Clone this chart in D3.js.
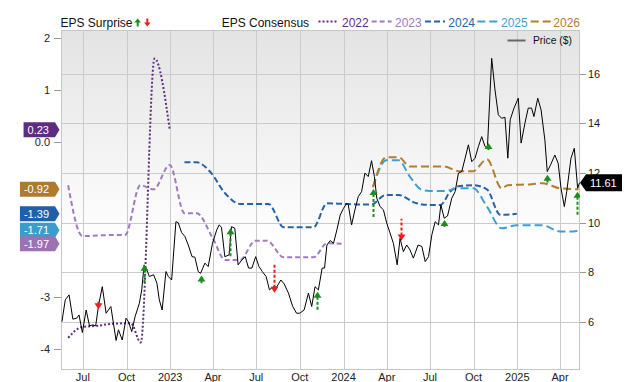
<!DOCTYPE html>
<html><head><meta charset="utf-8">
<script src="https://cdn.jsdelivr.net/npm/d3@7"></script>
<style>body{margin:0;background:#fff}svg{display:block;font-family:"Liberation Sans",Arial,sans-serif}</style>
</head><body><svg id="c" width="640" height="382"></svg>
<script>
// ---------------- DATA ----------------
const priceDates = ["2022-05-18","2022-05-25","2022-06-02","2022-06-10","2022-06-18","2022-06-23","2022-06-30","2022-07-08","2022-07-15","2022-07-22","2022-07-28","2022-08-03","2022-08-11","2022-08-19","2022-08-29","2022-09-09","2022-09-14","2022-09-22","2022-09-30","2022-10-05","2022-10-12","2022-10-19","2022-10-28","2022-11-02","2022-11-07","2022-11-13","2022-11-18","2022-11-27","2022-12-04","2022-12-09","2022-12-15","2022-12-23","2022-12-28","2023-01-04","2023-01-13","2023-01-18","2023-01-25","2023-02-01","2023-02-08","2023-02-16","2023-02-22","2023-03-01","2023-03-06","2023-03-15","2023-03-22","2023-03-31","2023-04-09","2023-04-14","2023-04-19","2023-04-26","2023-05-05","2023-05-10","2023-05-17","2023-05-24","2023-06-01","2023-06-08","2023-06-15","2023-06-22","2023-06-30","2023-07-07","2023-07-14","2023-07-22","2023-07-29","2023-08-06","2023-08-13","2023-08-22","2023-08-29","2023-09-07","2023-09-16","2023-09-24","2023-10-01","2023-10-10","2023-10-19","2023-10-26","2023-11-02","2023-11-09","2023-11-17","2023-11-22","2023-11-27","2023-12-04","2023-12-11","2023-12-18","2023-12-25","2024-01-01","2024-01-08","2024-01-11","2024-01-18","2024-01-25","2024-02-01","2024-02-08","2024-02-15","2024-02-22","2024-02-29","2024-03-06","2024-03-11","2024-03-18","2024-03-25","2024-04-01","2024-04-08","2024-04-15","2024-04-23","2024-04-29","2024-05-06","2024-05-13","2024-05-20","2024-05-27","2024-06-06","2024-06-14","2024-06-21","2024-06-28","2024-07-05","2024-07-12","2024-07-19","2024-07-24","2024-07-31","2024-08-07","2024-08-16","2024-08-23","2024-08-30","2024-09-06","2024-09-13","2024-09-20","2024-09-27","2024-10-04","2024-10-11","2024-10-18","2024-10-25","2024-10-30","2024-11-08","2024-11-15","2024-11-22","2024-11-29","2024-12-06","2024-12-12","2024-12-17","2024-12-25","2025-01-03","2025-01-09","2025-01-17","2025-01-24","2025-01-31","2025-02-05","2025-02-13","2025-02-20","2025-02-28","2025-03-05","2025-03-12","2025-03-21","2025-03-28","2025-04-03","2025-04-10","2025-04-15","2025-04-24","2025-05-01","2025-05-08","2025-05-12"];
const priceValues = [6.01,6.89,7.09,6.11,6.15,6.28,5.57,6.48,5.84,5.88,5.84,6.65,7.42,6.35,6.62,5.25,5.68,5.27,6.15,6.01,5.61,6.21,6.75,7.29,8.30,8.10,7.83,7.90,7.56,6.89,6.48,8.03,7.83,7.69,10.04,10.00,9.60,9.44,9.10,8.63,8.61,8.03,7.96,8.37,8.23,9.17,9.71,9.91,9.82,8.63,8.70,9.84,9.78,8.30,8.50,8.63,8.17,8.17,8.63,8.23,8.03,7.83,7.29,7.42,7.40,7.69,7.53,7.16,6.62,6.35,6.35,6.48,7.16,6.62,7.42,7.29,8.17,8.17,9.10,9.28,9.17,9.71,10.31,10.58,10.79,10.72,9.91,10.52,11.05,11.25,12.00,11.86,12.50,11.86,10.99,10.65,10.52,9.98,9.58,9.17,8.30,9.37,8.83,9.10,8.90,8.57,9.10,9.04,8.43,8.63,9.51,10.04,9.91,10.72,10.18,10.27,10.99,11.25,12.00,12.06,12.60,13.14,12.46,12.60,13.07,13.47,13.07,13.00,16.63,15.35,14.35,14.21,14.25,12.60,14.15,14.62,15.02,13.21,14.01,14.62,14.62,14.28,15.02,14.55,13.34,12.06,12.33,12.73,12.40,11.39,10.65,11.25,12.60,13.00,11.39,11.61];

const eps2022 = [["2022-05-31",-3.78],["2022-06-30",-3.57],["2022-07-31",-3.55],["2022-08-31",-3.51],["2022-09-30",-3.50],["2022-10-10",-3.50],["2022-10-31",-3.87],["2022-11-29",1.60],["2022-12-31",0.23]];
const eps2023 = [["2022-05-31",-0.84],["2022-06-30",-1.82],["2022-07-31",-1.81],["2022-08-31",-1.80],["2022-09-28",-1.80],["2022-10-30",-0.84],["2022-11-27",-0.92],["2022-12-31",-0.45],["2023-01-31",-1.38],["2023-02-26",-1.38],["2023-03-31",-1.85],["2023-04-27",-2.28],["2023-05-28",-2.28],["2023-06-29",-1.91],["2023-07-24",-1.91],["2023-08-28",-2.23],["2023-09-30",-2.23],["2023-10-30",-2.23],["2023-11-27",-1.96],["2023-12-31",-1.97]];
const eps2024 = [["2023-01-31",-0.40],["2023-02-26",-0.40],["2023-03-26",-0.58],["2023-04-27",-1.00],["2023-05-28",-1.20],["2023-06-30",-1.20],["2023-07-27",-1.20],["2023-08-28",-1.65],["2023-09-30",-1.65],["2023-10-30",-1.65],["2023-11-27",-1.19],["2023-12-31",-1.20],["2024-01-31",-1.21],["2024-02-29",-1.21],["2024-03-29",-1.03],["2024-04-26",-1.03],["2024-05-31",-1.18],["2024-06-30",-1.22],["2024-07-23",-1.22],["2024-08-13",-0.96],["2024-08-30",-0.86],["2024-09-30",-0.84],["2024-10-29",-0.92],["2024-11-26",-1.41],["2024-12-31",-1.39]];
const eps2025 = [["2024-03-03",-0.87],["2024-03-31",-0.36],["2024-04-26",-0.36],["2024-05-20",-0.68],["2024-06-14",-0.93],["2024-06-30",-0.95],["2024-07-31",-0.95],["2024-08-31",-0.90],["2024-09-30",-0.90],["2024-10-29",-1.25],["2024-11-29",-1.67],["2024-12-31",-1.61],["2025-01-31",-1.61],["2025-02-22",-1.61],["2025-04-01",-1.73],["2025-04-29",-1.73],["2025-05-10",-1.71]];
const eps2026 = [["2024-03-03",-0.88],["2024-03-31",-0.30],["2024-04-26",-0.30],["2024-05-20",-0.48],["2024-06-30",-0.48],["2024-07-31",-0.48],["2024-08-31",-0.57],["2024-09-30",-0.57],["2024-10-29",-0.34],["2024-11-29",-0.90],["2024-12-12",-0.84],["2025-01-31",-0.82],["2025-02-22",-0.80],["2025-04-01",-0.90],["2025-05-10",-0.92]];

const surpriseDates = ["2022-08-01","2022-11-07","2023-03-06","2023-05-07","2023-08-08","2023-11-06","2024-03-04","2024-05-01","2024-07-31","2024-10-31","2025-03-05","2025-05-06"];
const surpriseDir   = ["down","up","up","up","down","up","up","down","up","up","up","up"];
const surpriseSize  = [11,26,11,40,41,26,40,31,10,10,11,33];
const surprisePrice = [6.51,8.30,7.87,9.78,7.18,7.22,11.36,9.28,10.11,13.21,11.93,11.25];

const epsTicks = [2,1,0,-3,-4];
const priceTicks = [6,8,10,12,14,16];
const seriesNames = ["2022","2023","2024","2025","2026"];

// ---------------- CHART ----------------
const svg = d3.select("#c");
const L = 61, R = 580, T = 30, B = 370;
const parse = d3.utcParse("%Y-%m-%d");
const x = d3.scaleUtc().domain([parse("2022-05-16"), parse("2025-05-13")]).range([L, R]);
const yE = d3.scaleLinear().domain([-4.4, 2.15]).range([B, T]);
const yP = d3.scaleLinear().domain([4.06, 17.77]).range([B, T]);

const colors = {"2022":"#5d2d85","2023":"#a07bbd","2024":"#2462aa","2025":"#3fa0cf","2026":"#b27d30"};
const badgeColors = {"2022":"#5e2c80","2023":"#9c72b4","2024":"#1f61a8","2025":"#3b9dcb","2026":"#b07a2e"};
const dashes = {"2022":"2,2","2023":"5,3","2024":"6,3","2025":"8,4","2026":"8,4"};
const series = {"2022":eps2022,"2023":eps2023,"2024":eps2024,"2025":eps2025,"2026":eps2026};

const defs = svg.append("defs");
const g = defs.append("linearGradient").attr("id","bg").attr("x1",0).attr("y1",0).attr("x2",0).attr("y2",1);
g.append("stop").attr("offset","0%").attr("stop-color","#e3e3e3");
g.append("stop").attr("offset","62%").attr("stop-color","#ffffff");
g.append("stop").attr("offset","100%").attr("stop-color","#ffffff");
defs.append("clipPath").attr("id","clip").append("rect").attr("x",L).attr("y",T).attr("width",R-L).attr("height",B-T);

svg.append("rect").attr("x",L).attr("y",T).attr("width",R-L).attr("height",B-T).attr("fill","url(#bg)");

const xTicks = x.ticks(d3.utcMonth.every(3));
const grid = svg.append("g").attr("stroke","#cbcbcb").attr("stroke-width",1);
grid.selectAll(".vx").data(xTicks).join("line")
  .attr("x1",d=>Math.round(x(d))+0.5).attr("x2",d=>Math.round(x(d))+0.5).attr("y1",T).attr("y2",B);
grid.selectAll(".hy").data(priceTicks).join("line")
  .attr("x1",L).attr("x2",R).attr("y1",d=>Math.round(yP(d))+0.5).attr("y2",d=>Math.round(yP(d))+0.5);
svg.append("rect").attr("x",L+0.5).attr("y",T+0.5).attr("width",R-L-1).attr("height",B-T-1)
  .attr("fill","none").attr("stroke","#c6c6c6");

const plot = svg.append("g").attr("clip-path","url(#clip)");

// consensus lines
const cLine = d3.line().x(d=>x(parse(d[0]))).y(d=>yE(d[1])).curve(d3.curveMonotoneX);
seriesNames.forEach(k=>{
  plot.append("path").datum(series[k]).attr("d",cLine).attr("fill","none")
    .attr("stroke",colors[k]).attr("stroke-width",2).attr("stroke-dasharray",dashes[k]);
});

// price line
const priceData = priceDates.map((d,i)=>[parse(d),priceValues[i]]);
plot.append("path").datum(priceData)
  .attr("d",d3.line().x(d=>x(d[0])).y(d=>yP(d[1])))
  .attr("fill","none").attr("stroke","#000").attr("stroke-width",1).attr("stroke-linejoin","round");

// surprise arrows
const sLen = d3.scaleLinear().domain([0,40]).range([0,28]);
const green = "#1c8c1c", red = "#ee1c1c";
surpriseDates.forEach((d,i)=>{
  const px = Math.round(x(parse(d)))+0.5, ty = yP(surprisePrice[i]), len = Math.max(sLen(surpriseSize[i]),7);
  const up = surpriseDir[i]==="up", col = up?green:red, s = up?1:-1;
  plot.append("line").attr("x1",px).attr("x2",px).attr("y1",ty+s*5).attr("y2",ty+s*len)
    .attr("stroke",col).attr("stroke-width",2).attr("stroke-dasharray","3,2");
  plot.append("path").attr("d",`M${px},${ty}L${px-4},${ty+s*6}L${px+4},${ty+s*6}Z`).attr("fill",col);
});

// left axis
const la = svg.append("g").attr("font-size",11).attr("fill","#222");
epsTicks.forEach(v=>{
  const yy = Math.round(yE(v))+0.5;
  la.append("line").attr("x1",54).attr("x2",L).attr("y1",yy).attr("y2",yy).attr("stroke","#999");
  la.append("text").attr("x",50).attr("y",yy).attr("dy","0.35em").attr("text-anchor","end")
    .text(v===0?"0.0":d3.format("d")(v).replace("−","-"));
});
// right axis
const ra = svg.append("g").attr("font-size",11).attr("fill","#222");
priceTicks.forEach(v=>{
  const yy = Math.round(yP(v))+0.5;
  ra.append("line").attr("x1",R).attr("x2",586).attr("y1",yy).attr("y2",yy).attr("stroke","#999");
  ra.append("text").attr("x",588).attr("y",yy).attr("dy","0.35em").text(v);
});
// bottom axis
const fmtX = d=> d.getUTCMonth()===0 ? d3.utcFormat("%Y")(d) : d3.utcFormat("%b")(d);
svg.append("g").attr("font-size",11).attr("fill","#222").selectAll("text").data(xTicks).join("text")
  .attr("x",d=>x(d)).attr("y",381).attr("text-anchor","middle").text(fmtX);

// left badges (latest consensus values)
const bg = svg.append("g");
["2022","2026","2024","2025","2023"].forEach(k=>{
  const arr = series[k], v = arr[arr.length-1][1], cy = yE(v);
  const t = bg.append("text").attr("x",49).attr("y",cy).attr("dy","0.36em").attr("text-anchor","end")
    .attr("font-size",11).attr("fill","#fff").text(v.toFixed(2));
  const w = t.node().getComputedTextLength();
  const x0 = 49 - w - 4, h = 7.5;
  bg.insert("path","text").attr("d",`M${x0},${cy-h}L55,${cy-h}L59.5,${cy}L55,${cy+h}L${x0},${cy+h}Z`)
    .attr("fill",badgeColors[k]);
});
// right price badge
const lastP = priceValues[priceValues.length-1], ry = yP(lastP);
svg.append("path").attr("d",`M580,${ry}L586,${ry-8.5}L622,${ry-8.5}L622,${ry+8.5}L586,${ry+8.5}Z`).attr("fill","#000");
svg.append("text").attr("x",590).attr("y",ry).attr("dy","0.36em").attr("font-size",11).attr("fill","#fff").text(lastP.toFixed(2));

// legend
const lg = svg.append("g").attr("font-size",12);
lg.append("text").attr("x",60.5).attr("y",26.5).attr("fill","#111").text("EPS Surprise");
lg.append("path").attr("d","M137.7,18.5L134.4,22.5L141,22.5Z").attr("fill",green);
lg.append("line").attr("x1",137.7).attr("x2",137.7).attr("y1",22).attr("y2",26.5).attr("stroke",green).attr("stroke-width",2);
lg.append("path").attr("d","M147.3,26.5L144,22.5L150.6,22.5Z").attr("fill",red);
lg.append("line").attr("x1",147.3).attr("x2",147.3).attr("y1",18.5).attr("y2",23).attr("stroke",red).attr("stroke-width",2);
lg.append("text").attr("x",221.7).attr("y",26.5).attr("fill","#111").text("EPS Consensus");
const legPos = {"2022":[318.5,342],"2023":[371.7,395],"2024":[425,448.3],"2025":[477.3,501],"2026":[530.7,553.3]};
seriesNames.forEach(k=>{
  const [lx,tx] = legPos[k];
  lg.append("line").attr("x1",lx).attr("x2",lx+20).attr("y1",21.5).attr("y2",21.5)
    .attr("stroke",colors[k]).attr("stroke-width",2).attr("stroke-dasharray",dashes[k]);
  lg.append("text").attr("x",tx).attr("y",26.5).attr("fill",colors[k]).text(k);
});
lg.append("line").attr("x1",507.5).attr("x2",525.5).attr("y1",40.5).attr("y2",40.5).attr("stroke","#666").attr("stroke-width",2);
lg.append("text").attr("x",533).attr("y",44.3).attr("font-size",10.3).attr("fill","#111").text("Price ($)");
</script></body></html>
